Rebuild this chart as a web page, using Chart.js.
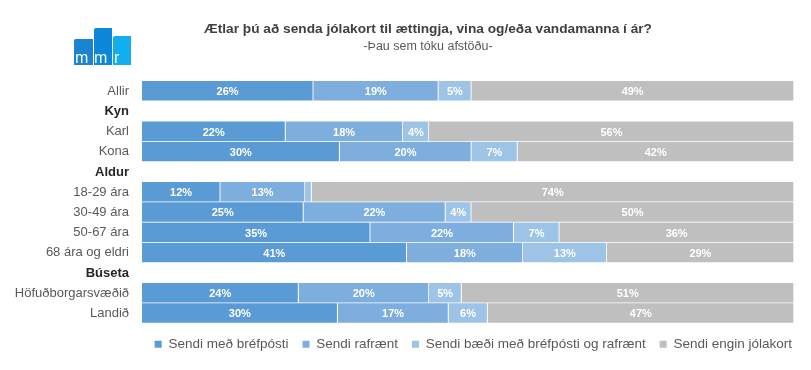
<!DOCTYPE html>
<html>
<head>
<meta charset="utf-8">
<script src="https://cdn.jsdelivr.net/npm/chart.js@4.4.0/dist/chart.umd.min.js"></script>
<style>
  body { margin: 0; background: #fff; }
  #wrap { position: relative; width: 811px; height: 370px; font-family: "Liberation Sans", Arial, sans-serif; }
  #logo { position: absolute; left: 74px; top: 28px; width: 57px; height: 37px; overflow: hidden; }
  #logo div { position: absolute; bottom: 0; }
  #logo span { position: absolute; top: 22px; color: #fff; font-size: 16px; line-height: 16px; }
  .head { position: absolute; left: 128px; width: 600px; text-align: center; }
  #title { top: 21px; font-size: 13.7px; font-weight: bold; line-height: 16px; color: #404040; }
  #subtitle { top: 38px; font-size: 12.5px; line-height: 16px; color: #595959; }
</style>
</head>
<body>
<div id="wrap">
  <canvas id="chart" width="811" height="370"></canvas>
  <div id="logo">
    <div style="left:0;width:19px;height:26px;background:#1a84d3;border-top-left-radius:2px"></div>
    <div style="left:20px;width:18px;height:37px;background:#0d88d8;border-top-left-radius:2px"></div>
    <div style="left:39px;width:18px;height:29px;background:#12aeef;border-top-left-radius:2px"></div>
    <span style="left:1px">m</span>
    <span style="left:20px">m</span>
    <span style="left:40px">r</span>
  </div>
  <div id="title" class="head">Ætlar þú að senda jólakort til ættingja, vina og/eða vandamanna í ár?</div>
  <div id="subtitle" class="head">-Þau sem tóku afstöðu-</div>
</div>
<script>
// Flokkar (fyrirsagnir eru án gagna)
const categories = ["Allir", "Kyn", "Karl", "Kona", "Aldur", "18-29 ára", "30-49 ára",
  "50-67 ára", "68 ára og eldri", "Búseta", "Höfuðborgarsvæðið", "Landið"];
const headerRows = ["Kyn", "Aldur", "Búseta"];

const seriesNames = ["Sendi með bréfpósti", "Sendi rafrænt",
  "Sendi bæði með bréfpósti og rafrænt", "Sendi engin jólakort"];

const brefposti = [26, null, 22, 30, null, 12, 25, 35, 41, null, 24, 30];
const rafraent  = [19, null, 18, 20, null, 13, 22, 22, 18, null, 20, 17];
const baedi     = [5,  null, 4,  7,  null, 1,  4,  7,  13, null, 5,  6];
const engin     = [49, null, 56, 42, null, 74, 50, 36, 29, null, 51, 47];

const colors = ["#5b9bd5", "#7daede", "#9dc3e6", "#bfbfbf"];

const raw = [brefposti, rafraent, baedi, engin];

// hlutfall af summu hverrar línu svo súlurnar fylli 100%
const rowSums = categories.map((c, i) => raw.reduce((s, arr) => s + (arr[i] || 0), 0));
const datasets = raw.map((arr, k) => ({
  label: seriesNames[k],
  data: arr.map((v, i) => v == null ? null : v / rowSums[i] * 100),
  raw: arr,
  backgroundColor: colors[k],
  borderColor: "#ffffff",
  borderWidth: { top: 0, left: 0, right: 1, bottom: 1 },
  borderSkipped: false,
  barPercentage: 1,
  categoryPercentage: 1
}));

const font = "'Liberation Sans', Arial, sans-serif";

// skrifa prósentur inn í súlurnar
const barLabels = {
  id: "barLabels",
  afterDatasetsDraw(chart) {
    const ctx = chart.ctx;
    ctx.save();
    ctx.fillStyle = "#ffffff";
    ctx.font = "bold 11px " + font;
    ctx.textAlign = "center";
    ctx.textBaseline = "middle";
    chart.data.datasets.forEach((ds, k) => {
      const meta = chart.getDatasetMeta(k);
      meta.data.forEach((bar, i) => {
        const v = ds.raw[i];
        if (v == null || v < 2) return;
        const p = bar.getProps(["x", "y", "base"], true);
        ctx.fillText(v + "%", (p.x + p.base) / 2, p.y + 1);
      });
    });
    ctx.restore();
  }
};

// skýringar aðeins lengra til hægri, eins og í upprunalegu myndinni
const legendShift = {
  id: "legendShift",
  beforeDraw(chart) { chart.legend.right = chart.width - 5; }
};

new Chart(document.getElementById("chart"), {
  type: "bar",
  data: { labels: categories, datasets: datasets },
  plugins: [barLabels, legendShift],
  options: {
    indexAxis: "y",
    responsive: false,
    animation: false,
    layout: { padding: { left: 0, right: 17, top: 81, bottom: 9 } },
    scales: {
      x: { stacked: true, min: 0, max: 100, display: false },
      y: {
        stacked: true,
        grid: { display: false },
        border: { display: false },
        afterFit(scale) { scale.width = 142; },
        ticks: {
          padding: 5,
          color: (c) => headerRows.includes(categories[c.index]) ? "#262626" : "#595959",
          font: (c) => ({
            family: font,
            size: 13,
            weight: headerRows.includes(categories[c.index]) ? "bold" : "normal"
          })
        }
      }
    },
    plugins: {
      tooltip: { enabled: false },
      legend: {
        position: "bottom",
        align: "end",
        labels: {
          color: "#595959",
          boxWidth: 7,
          boxHeight: 7,
          padding: 14,
          font: { family: font, size: 13.5 },
          generateLabels(chart) {
            return Chart.defaults.plugins.legend.labels.generateLabels(chart)
              .map(l => Object.assign(l, { lineWidth: 0, strokeStyle: "transparent" }));
          }
        }
      }
    }
  }
});
</script>
</body>
</html>
